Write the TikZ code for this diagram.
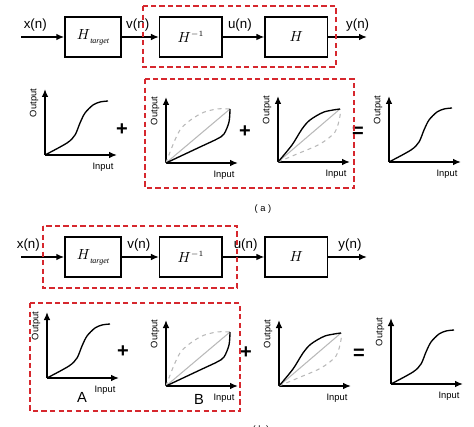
\documentclass[tikz,border=0pt]{standalone}
\usepackage{fontspec}
\setmainfont{Liberation Sans}
\newfontfamily\serifit{Liberation Serif}
\usetikzlibrary{arrows.meta, positioning}

\definecolor{dashred}{RGB}{214,40,46}
\definecolor{lightcurve}{RGB}{185,185,185}

\begin{document}
\begin{tikzpicture}[
  x=0.75pt, y=-0.75pt,
  block/.style={rectangle, draw, line width=1.1pt, minimum width=46.8pt,
    minimum height=30pt, inner sep=0pt, font=\serifit\fontsize{11}{11}\selectfont},
  narrow/.style={minimum width=42pt},
  sig/.style={-{Latex[length=6pt,width=5pt]}, line width=1.1pt},
  lbl/.style={font=\fontsize{10}{10}\selectfont, inner sep=1pt, above=2.5pt},
  grp/.style={draw=dashred, line width=1.1pt, dash pattern=on 4pt off 2.4pt},
  axis/.style={-{Latex[length=6pt,width=5pt]}, line width=1.1pt},
  axlbl/.style={font=\fontsize{7}{7}\selectfont, inner sep=0pt},
  curve/.style={line width=1pt},
  guide/.style={draw=lightcurve, line width=0.8pt},
  sign/.style={font=\bfseries\fontsize{15}{15}\selectfont, inner sep=0pt},
  axes/.pic={
    \draw[axis] (0,0) -- (0,-66);
    \draw[axis] (0,0) -- (72,0);
    \node[axlbl, rotate=90] (-out) at (-11,-52) {Output};
    \node[axlbl] (-in) at (58,12) {Input};
  },
  sgraph/.pic={
    \pic (-ax) {axes};
    \draw[curve] plot[smooth] coordinates {(0,0) (22,-12) (30,-20) (35,-32)
      (40,-42) (48,-50) (55,-53) (63,-54)};
  },
  lowgraph/.pic={
    \pic (-ax) {axes};
    \draw[guide] (0,0) -- (64,-54);
    \draw[guide, dashed] plot[smooth] coordinates {(0,0) (14,-33) (34,-49) (51,-54) (64,-54)};
    \draw[curve] plot[smooth] coordinates {(0,0) (34,-16) (51,-24) (58,-29) (63,-41) (64,-54)};
  },
  highgraph/.pic={
    \pic (-ax) {axes};
    \draw[guide] (0,0) -- (62,-53);
    \draw[guide, dashed] plot[smooth] coordinates {(0,0) (19,-8) (42,-18) (57,-30) (62,-46) (62,-53)};
    \draw[curve] plot[smooth] coordinates {(0,0) (14,-17) (24,-33) (32,-42) (46,-50) (62,-53)};
  }
]
\useasboundingbox (0,0) rectangle (474,427);
\clip (0,0) rectangle (474,427);

% (a) target model followed by inverse and model
\node[block, narrow] (tgta) at (93,37) {$H$\raisebox{-3pt}{\fontsize{6}{6}\selectfont\itshape target}};
\node[block, right=27.9pt of tgta] (inva) {$H^{\raisebox{1pt}{\fontsize{6}{6}\selectfont$-1$}}$};
\node[block, right=31.2pt of inva] (moda) {$H$};
\coordinate (xa) at (21,37);
\coordinate (ya) at (367,37);

\draw[sig] (xa) -- node[lbl, pos=0.33] {x(n)} (tgta);
\draw[sig] (tgta) -- node[lbl, pos=0.43] {v(n)} (inva);
\draw[sig] (inva) -- node[lbl, pos=0.41] {u(n)} (moda);
\draw[sig] (moda) -- node[lbl, pos=0.76] {y(n)} (ya);
\draw[grp] (143,6) rectangle (336,67);

\pic (a1) at (45,155) {sgraph};
\node[sign] (pa1) at (122,130) {+};
\pic (a2) at (166,163) {lowgraph};
\node[sign] (pa2) at (245,132) {+};
\pic (a3) at (278,162) {highgraph};
\node[sign] (ea) at (358,132) {=};
\pic (a4) at (389,162) {sgraph};
\draw[grp] (145,79) rectangle (354,188);
\node[font=\fontsize{7}{7}\selectfont] (capa) at (263,209) {( a )};

% (b) inverse applied to the target first
\node[block, narrow] (tgtb) at (93,257) {$H$\raisebox{-3pt}{\fontsize{6}{6}\selectfont\itshape target}};
\node[block, right=27.9pt of tgtb] (invb) {$H^{\raisebox{1pt}{\fontsize{6}{6}\selectfont$-1$}}$};
\node[block, right=31.2pt of invb] (modb) {$H$};
\coordinate (xb) at (21,257);
\coordinate (yb) at (367,257);

\draw[sig] (xb) -- node[lbl, pos=0.17] {x(n)} (tgtb);
\draw[sig] (tgtb) -- node[lbl, pos=0.46] {v(n)} (invb);
\draw[sig] (invb) -- node[lbl, pos=0.55] {u(n)} (modb);
\draw[sig] (modb) -- node[lbl, pos=0.56] {y(n)} (yb);
\draw[grp] (43,226) rectangle (237,288);

\pic (b1) at (47,378) {sgraph};
\node[font=\fontsize{11}{11}\selectfont] (la) at (82,397) {A};
\node[sign] (pb1) at (123,352) {+};
\pic (b2) at (166,386) {lowgraph};
\node[font=\fontsize{11}{11}\selectfont] (lb) at (199,399) {B};
\node[sign] (pb2) at (246,353) {+};
\pic (b3) at (279,386) {highgraph};
\node[sign] (eb) at (359,354) {=};
\pic (b4) at (391,384) {sgraph};
\draw[grp] (30,303) rectangle (240,411);
\node[font=\fontsize{7}{7}\selectfont] (capb) at (261,430) {( b )};
\end{tikzpicture}
\end{document}
